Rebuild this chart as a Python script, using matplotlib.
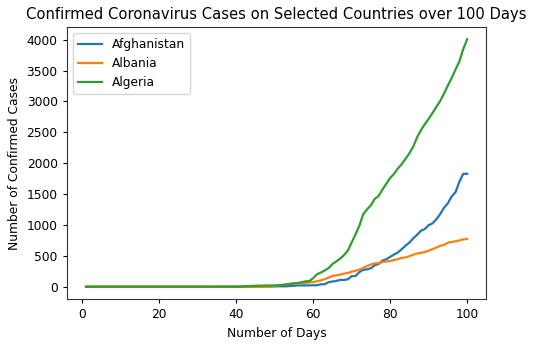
import matplotlib
matplotlib.use("Agg")
import matplotlib.pyplot as plt
import numpy as np

days = np.arange(1, 101)

afghanistan = [0] * 34 + [1] * 13 + [
    4, 4, 5, 7, 7, 7, 11, 16, 21, 22,
    22, 22, 24, 24, 40, 40, 74, 84, 94, 110,
    110, 120, 170, 174, 237, 273, 281, 299, 349, 367,
    423, 444, 484, 521, 555, 607, 665, 714, 784, 840,
    906, 933, 996, 1026, 1092, 1176, 1279, 1351, 1463, 1531,
    1703, 1828, 1828,
]

albania = [0] * 47 + [
    2, 10, 12, 23, 33, 38, 42, 51, 55, 59,
    64, 70, 76, 89, 104, 123, 146, 174, 186, 197,
    212, 223, 243, 259, 277, 304, 333, 361, 377, 383,
    400, 409, 416, 433, 446, 467, 475, 494, 518, 539,
    548, 562, 584, 609, 634, 663, 678, 712, 726, 736,
    750, 766, 773,
]

algeria = [0] * 34 + [1] * 6 + [
    3, 5, 12, 12, 17, 17, 19, 20, 20, 20,
    24, 26, 37, 48, 54, 60, 74, 87, 90, 139,
    201, 230, 264, 302, 367, 409, 454, 511, 584, 716,
    847, 986, 1171, 1251, 1320, 1423, 1468, 1572, 1666, 1761,
    1825, 1914, 1983, 2070, 2160, 2268, 2418, 2534, 2629, 2718,
    2811, 2910, 3007, 3127, 3256, 3382, 3517, 3649, 3848, 4006,
]

countries = ["Afghanistan", "Albania", "Algeria"]
series = [afghanistan, albania, algeria]

# reference looks like a slightly shrunk notebook render, so scale text down a bit
plt.rcParams.update({
    "font.size": 8.8,
    "axes.titlesize": 10.6,
    "xtick.major.size": 3.2,
    "ytick.major.size": 3.2,
    "axes.edgecolor": "#333333",
})

fig = plt.figure(figsize=(5.36, 3.45), dpi=100)
ax = fig.add_axes([0.125, 0.133, 0.782, 0.789])

for name, values in zip(countries, series):
    ax.plot(days, values, label=name, linewidth=1.6)

ax.set_title("Confirmed Coronavirus Cases on Selected Countries over 100 Days")
ax.set_xlabel("Number of Days")
ax.set_ylabel("Number of Confirmed Cases")
ax.legend(loc="upper left")

fig.savefig("out.png", dpi=100)
